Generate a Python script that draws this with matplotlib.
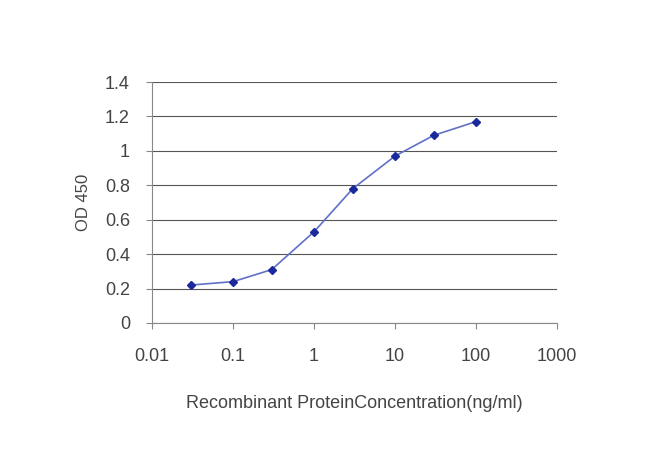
import matplotlib
matplotlib.use("Agg")
import matplotlib.pyplot as plt

conc = [0.03, 0.1, 0.3, 1, 3, 10, 30, 100]
od = [0.22, 0.24, 0.31, 0.53, 0.78, 0.97, 1.09, 1.17]
xticks = [0.01, 0.1, 1, 10, 100, 1000]
xlabels = ["0.01", "0.1", "1", "10", "100", "1000"]
yticks = [0, 0.2, 0.4, 0.6, 0.8, 1, 1.2, 1.4]
ylabels = ["0", "0.2", "0.4", "0.6", "0.8", "1", "1.2", "1.4"]

plt.rcParams['font.family'] = ['Liberation Sans', 'DejaVu Sans']
fig = plt.figure(figsize=(6.5, 4.66), dpi=100)
ax = fig.add_axes([0.234, 0.307, 0.623, 0.517])
ax.plot(conc, od, color="#6070c8", lw=1.2, marker="D", ms=4,
        markerfacecolor="#1a2a9a", markeredgecolor="#1a2a9a")
ax.set_xscale("log")
ax.set_xlim(0.01, 1000)
ax.set_ylim(0, 1.4)
ax.set_xticks(xticks)
ax.set_xticklabels(xlabels)
ax.minorticks_off()
ax.set_yticks(yticks)
ax.set_yticklabels(ylabels)
ax.yaxis.grid(True, color="#555555", lw=0.8)
ax.set_axisbelow(True)
for s in ["top", "right"]:
    ax.spines[s].set_visible(False)
for s in ["left", "bottom"]:
    ax.spines[s].set_color("#888888")
ax.tick_params(colors="#444444", labelsize=13, length=4, color="#888888")
ax.tick_params(axis="x", pad=14)
ax.tick_params(axis="y", pad=12)
ax.set_ylabel("OD 450", fontsize=12, color="#444444", labelpad=10)
ax.set_xlabel("Recombinant ProteinConcentration(ng/ml)", fontsize=13, color="#444444", labelpad=22)
fig.savefig("out.png", dpi=100)
